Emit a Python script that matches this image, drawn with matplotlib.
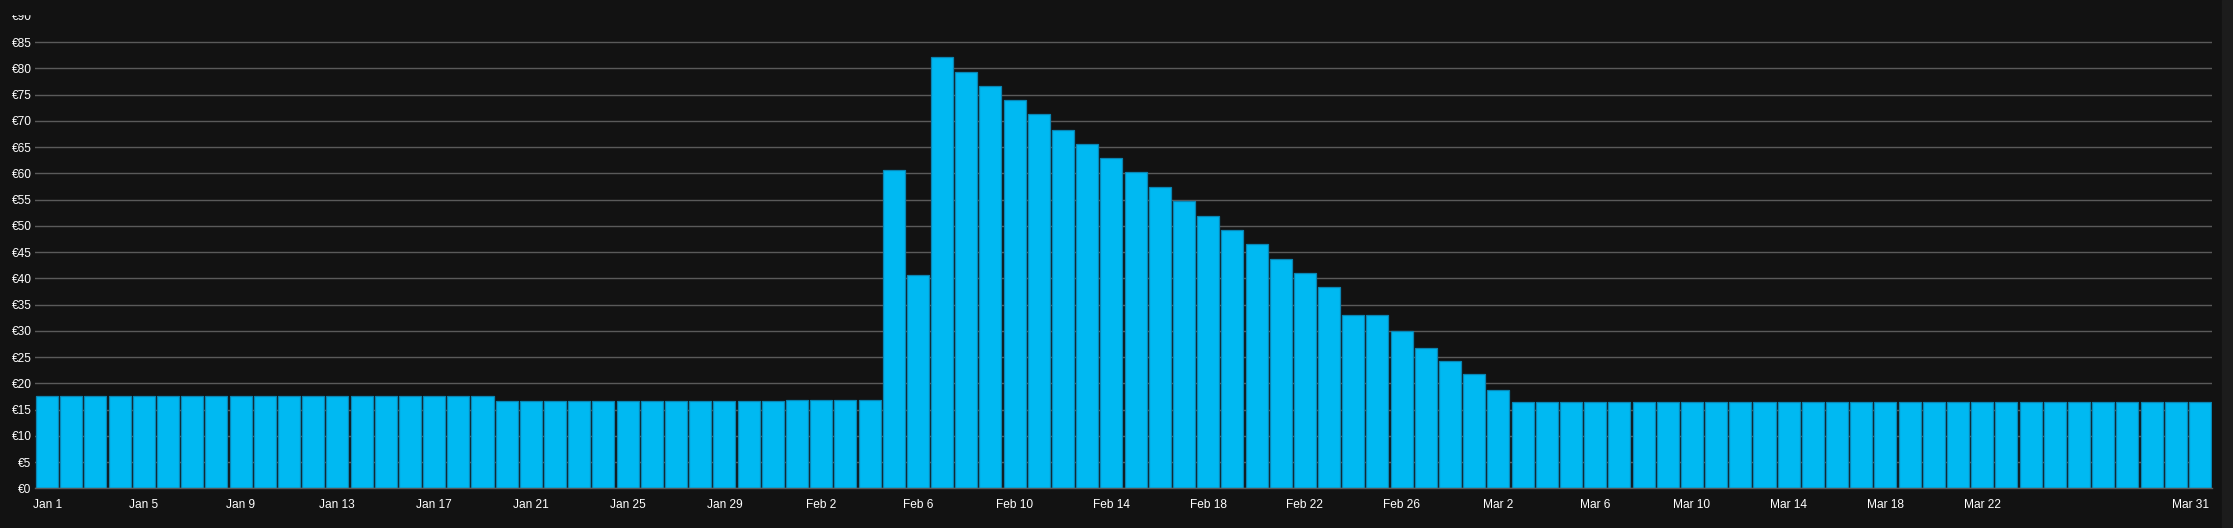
import matplotlib
matplotlib.use('Agg')
import matplotlib.pyplot as plt
from matplotlib.patches import Rectangle
from matplotlib.transforms import ScaledTranslation
import numpy as np

# daily values, Jan 1 .. Mar 31 (90 days)
jan_vals = [17.55] * 19 + [16.55] * 12
feb_vals = [16.75, 16.75, 16.75, 16.75, 60.7, 40.7, 82.1, 79.2, 76.6, 73.9,
            71.2, 68.25, 65.5, 62.85, 60.2, 57.45, 54.7, 51.9, 49.25, 46.6,
            43.7, 41.05, 38.4, 32.95, 32.95, 30.0, 26.8, 24.2]
mar_vals = [21.7, 18.7] + [16.5] * 29
values = jan_vals + feb_vals + mar_vals

tick_days = [0, 4, 8, 12, 16, 20, 24, 28, 32, 36, 40, 44, 48, 52, 56,
             60, 64, 68, 72, 76, 80, 89]
tick_labels = ['Jan 1', 'Jan 5', 'Jan 9', 'Jan 13', 'Jan 17', 'Jan 21', 'Jan 25',
               'Jan 29', 'Feb 2', 'Feb 6', 'Feb 10', 'Feb 14', 'Feb 18', 'Feb 22',
               'Feb 26', 'Mar 2', 'Mar 6', 'Mar 10', 'Mar 14', 'Mar 18', 'Mar 22',
               'Mar 31']
y_ticks = list(range(0, 95, 5))

bg = '#121212'
bar_col = '#00b9f2'
grid_col = '#5a5a5a'

plt.rcParams['font.family'] = ['Liberation Sans', 'DejaVu Sans']

W, H = 2233, 528
fig = plt.figure(figsize=(W / 100, H / 100), dpi=100, facecolor=bg)
ax = fig.add_axes([35 / W, (H - 488.3) / H, (2212 - 35) / W, (488.3 - 15.8) / H])
ax.set_facecolor(bg)

x = np.arange(len(values))
ax.bar(x, values, width=0.91, color=bar_col, edgecolor='#0a86b4', linewidth=0.9, zorder=2)

ax.set_xlim(-0.5, len(values) - 0.5)
ax.set_ylim(0, 90)
ax.set_yticks(y_ticks)
ax.set_yticklabels(['€%d' % v for v in y_ticks])
ax.set_xticks(tick_days)
ax.set_xticklabels(tick_labels)

ax.yaxis.grid(True, color=grid_col, linewidth=1.0, zorder=0)
ax.set_axisbelow(True)
ax.get_ygridlines()[-1].set_visible(False)

for s in ['top', 'right', 'left']:
    ax.spines[s].set_visible(False)
ax.spines['bottom'].set_color(grid_col)
ax.spines['bottom'].set_linewidth(1.0)

ax.tick_params(axis='y', length=0, pad=2.5, labelcolor='white', labelsize=8.6)
ax.tick_params(axis='x', length=0, pad=8, labelcolor='white', labelsize=8.6)

# last label pulled inside the chart like the original
lbl = ax.get_xticklabels()[-1]
lbl.set_horizontalalignment('right')
lbl.set_transform(lbl.get_transform() + ScaledTranslation(9 / 100, 0, fig.dpi_scale_trans))

# top crop of the €90 label and the scrollbar strip at the right
fig.add_artist(Rectangle((0, 1 - 14 / H), 1, 14 / H, transform=fig.transFigure,
                         color=bg, zorder=10))
fig.add_artist(Rectangle((2222 / W, 0), 11 / W, 1, transform=fig.transFigure,
                         color='#1c1c1c', zorder=10))

fig.savefig('out.png', dpi=100, facecolor=bg)
